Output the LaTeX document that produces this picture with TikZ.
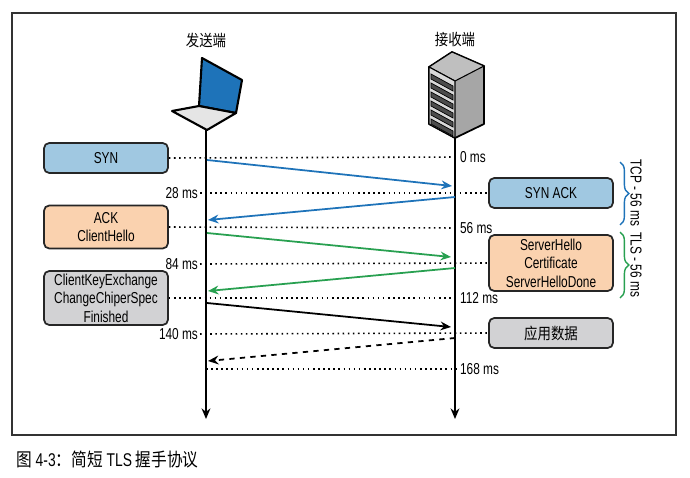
\documentclass[tikz,border=0pt]{standalone}
\usepackage{fontspec}
\setmainfont{Liberation Sans}[FakeStretch=0.75]
\newfontfamily\cjk{Noto Sans CJK SC}[FakeStretch=0.85]
\usetikzlibrary{arrows.meta,decorations.pathreplacing}
\definecolor{synblue}{RGB}{160,200,225}
\definecolor{tlsorange}{RGB}{250,210,175}
\definecolor{datagray}{RGB}{210,210,212}
\definecolor{arrblue}{RGB}{30,115,185}
\definecolor{arrgreen}{RGB}{40,160,80}
\begin{document}
\begin{tikzpicture}[x=0.02cm,y=-0.02cm,font=\fontsize{9}{10.5}\selectfont]

\tikzset{msg/.style={draw=black!85,line width=1pt,rounded corners=3pt,minimum width=124*0.02cm,align=center,inner sep=1pt}};
\tikzset{tick/.style={dotted,line width=0.9pt}};
\tikzset{ms/.style={inner sep=1pt}};
\tikzset{flow/.style={-{Stealth[length=6pt,width=5pt]},line width=1pt}};

\useasboundingbox (0,0) rectangle (690,477);
\draw[black!80,line width=0.8pt] (12,13) rectangle (676,435);

% hosts
\node (snd) at (206,40) {\cjk 发送端};
\node (rcv) at (455,40) {\cjk 接收端};

% laptop
\draw[line width=1.2pt,fill=arrblue,line join=round] (202,58) -- (242,80) -- (236,113) -- (199,106) -- cycle;
\draw[line width=1.2pt,fill=gray!20,line join=round] (199,106) -- (236,113) -- (207,130) -- (172,111) -- cycle;

% server
\draw[line width=1pt,fill=gray!70,line join=round] (429,67) -- (452,52) -- (484,66) -- (484,124) -- (455,138) -- (429,124) -- cycle;
\draw[line width=0.6pt,fill=gray!50] (429,67) -- (452,52) -- (484,66) -- (455,81) -- cycle;
\draw[line width=0.6pt,fill=gray!30] (429,67) -- (455,81) -- (455,138) -- (429,124) -- cycle;
\foreach \k in {0,...,5}
  \draw[fill=black!70] (431,74+9*\k) -- (453,86+9*\k) -- (453,91+9*\k) -- (431,79+9*\k) -- cycle;

% time lines
\coordinate (s0) at (206,130);
\coordinate (s1) at (206,419);
\coordinate (r0) at (455,138);
\coordinate (r1) at (455,419);
\draw[flow] (s0) -- (s1);
\draw[flow] (r0) -- (r1);

% messages
\node[msg,fill=synblue,minimum height=30*0.02cm] (syn) at (106,158) {SYN};
\node[msg,fill=tlsorange,minimum height=43*0.02cm] (ack) at (106,227) {ACK\\ClientHello};
\node[msg,fill=datagray,minimum height=54*0.02cm] (ckx) at (106,298) {ClientKeyExchange\\ChangeChiperSpec\\Finished};
\node[msg,fill=synblue,minimum height=30*0.02cm] (synack) at (551,193) {SYN ACK};
\node[msg,fill=tlsorange,minimum height=56*0.02cm] (shello) at (551,263) {ServerHello\\Certificate\\ServerHelloDone};
\node[msg,fill=datagray,minimum height=30*0.02cm] (appdata) at (551,333) {\cjk 应用数据};

% ticks
\node[ms,anchor=west] (t0) at (458,157) {0 ms};
\node[ms,anchor=east] (t28) at (200,193) {28 ms};
\node[ms,anchor=west] (t56) at (458,228) {56 ms};
\node[ms,anchor=east] (t84) at (200,264) {84 ms};
\node[ms,anchor=west] (t112) at (458,298) {112 ms};
\node[ms,anchor=east] (t140) at (200,334) {140 ms};
\node[ms,anchor=west] (t168) at (458,369) {168 ms};
\draw[tick] (syn.east) -- (t0.west);
\draw[tick] (t28.east) -- (synack.west);
\draw[tick] (ack.east) -- (t56.west);
\draw[tick] (t84.east) -- (shello.west);
\draw[tick] (ckx.east) -- (t112.west);
\draw[tick] (t140.east) -- (appdata.west);
\draw[tick] (206,369) -- (t168.west);

% arrows
\draw[flow,arrblue] (207,160) -- (452,186);
\draw[flow,arrblue] (455,197) -- (208,220);
\draw[flow,arrgreen] (207,233) -- (451,257);
\draw[flow,arrgreen] (455,268) -- (208,291);
\draw[flow] (207,303) -- (451,327);
\draw[flow,dashed] (455,338) -- (208,361);

% phases
\draw[arrblue,line width=0.8pt,decorate,decoration={brace,amplitude=5pt}] (620,162) -- (620,225);
\node[rotate=-90] (tcp) at (636,193) {TCP - 56 ms};
\draw[arrgreen,line width=0.8pt,decorate,decoration={brace,amplitude=5pt}] (620,232) -- (620,298);
\node[rotate=-90] (tls) at (636,265) {TLS - 56 ms};

% caption
\node[anchor=west,font=\fontsize{10.5}{12}\selectfont] (cap) at (10,460) {{\cjk 图} 4-3{\cjk ：简短} TLS {\cjk 握手协议}};
\end{tikzpicture}
\end{document}
